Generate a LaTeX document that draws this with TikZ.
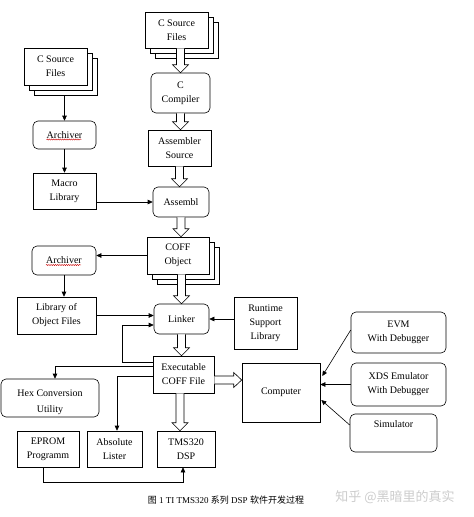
\documentclass[tikz,border=0pt]{standalone}
\usepackage{fontspec}
\setmainfont{Liberation Serif}
\newfontfamily\cjk{Noto Sans CJK SC}
\usetikzlibrary{calc,arrows.meta,decorations.pathmorphing}
\newcommand\hdown[2]{\draw[hollow] let \p1=(#1),\p2=(#2) in (\x1-4pt,\y1) -- (\x1-4pt,\y2+8pt) -- (\x1-8pt,\y2+8pt) -- (\x1,\y2) -- (\x1+8pt,\y2+8pt) -- (\x1+4pt,\y2+8pt) -- (\x1+4pt,\y1);}
\newcommand\hright[2]{\draw[hollow] let \p1=(#1),\p2=(#2) in (\x1,\y1+4pt) -- (\x2-8pt,\y1+4pt) -- (\x2-8pt,\y1+7.5pt) -- (\x2,\y1) -- (\x2-8pt,\y1-7.5pt) -- (\x2-8pt,\y1-4pt) -- (\x1,\y1-4pt);}
\begin{document}
\begin{tikzpicture}[x=1pt,y=-1pt,
  box/.style={draw,line width=0.6pt,fill=white,align=center,font=\fontsize{10}{14}\selectfont,inner sep=0pt},
  rbox/.style={box,rounded corners=5pt},
  arr/.style={line width=0.6pt,-{Triangle[length=5pt,width=4.5pt]}},
  hollow/.style={draw,line width=0.6pt,fill=white},
  squig/.style={red!80!black,line width=0.4pt,decorate,decoration={snake,amplitude=0.6pt,segment length=2.2pt}}]
\useasboundingbox (0,0) rectangle (474,517);

% left C source stack
\node[box,minimum width=63pt,minimum height=37pt] (srcL3) at (65.5,76.5) {};
\node[box,minimum width=63pt,minimum height=37pt] (srcL2) at (60.5,71.5) {};
\node[box,minimum width=63pt,minimum height=37pt] (srcL) at (55.5,66.5) {C Source\\Files};
% right C source stack
\node[box,minimum width=63pt,minimum height=36pt] (srcR3) at (186.5,40) {};
\node[box,minimum width=63pt,minimum height=36pt] (srcR2) at (181.5,35) {};
\node[box,minimum width=63pt,minimum height=36pt] (srcR) at (176.5,30) {C Source\\Files};

\node[rbox,minimum width=59pt,minimum height=40pt] (cc) at (180.5,93) {C\\Compiler};
\node[box,minimum width=63pt,minimum height=36pt] (asmsrc) at (179.5,148) {Assembler\\Source};
\node[rbox,minimum width=56pt,minimum height=30pt] (asm) at (181,202) {Assembl};

% COFF stack
\node[box,minimum width=62pt,minimum height=37pt] (coff3) at (188,265.5) {};
\node[box,minimum width=62pt,minimum height=37pt] (coff2) at (183,260.5) {};
\node[box,minimum width=62pt,minimum height=37pt] (coff) at (178,255.5) {COFF\\Object};

\node[rbox,minimum width=63pt,minimum height=28pt] (arch1) at (64.5,135) {Archiver};
\node[box,minimum width=63pt,minimum height=36pt] (macro) at (64.5,191) {Macro\\Library};
\node[rbox,minimum width=64pt,minimum height=29pt] (arch2) at (64,260.5) {Archiver};
\node[box,minimum width=79pt,minimum height=37pt] (lib) at (56.5,315.5) {Library of\\Object Files};
\node[rbox,minimum width=55pt,minimum height=30pt] (linker) at (181.5,319) {Linker};
\node[box,minimum width=63pt,minimum height=52pt] (rt) at (265.5,323) {Runtime\\Support\\Library};
\node[box,minimum width=61pt,minimum height=37pt] (exec) at (183.5,374.5) {Executable\\COFF File};
\node[box,minimum width=78pt,minimum height=59pt] (comp) at (281,392.5) {Computer};
\node[rbox,minimum width=95pt,minimum height=41pt] (evm) at (398.5,332.5) {EVM\\With Debugger};
\node[rbox,minimum width=95pt,minimum height=43pt] (xds) at (398.5,384.5) {XDS Emulator\\With Debugger};
\node[rbox,minimum width=87pt,minimum height=38pt] (sim) at (393.5,433) {};
\node[font=\fontsize{10}{14}\selectfont] (simtxt) at (393.5,424) {Simulator};
\node[rbox,minimum width=98pt,minimum height=38pt] (hex) at (50,398) {};
\node[font=\fontsize{10}{16}\selectfont,align=center] (hextxt) at (50,402) {Hex Conversion\\Utility};
\node[box,minimum width=62pt,minimum height=36pt] (eprom) at (48,449) {EPROM\\Programm};
\node[box,minimum width=55pt,minimum height=36pt] (abs) at (114.5,449) {Absolute\\Lister};
\node[box,minimum width=58pt,minimum height=36pt] (tms) at (186,449) {TMS320\\DSP};

% spelling squiggles
\draw[squig] ([xshift=-18pt,yshift=-4.5pt]arch1.center) -- ([xshift=17pt,yshift=-4.5pt]arch1.center);
\draw[squig] ([xshift=-18pt,yshift=-4.5pt]arch2.center) -- ([xshift=17pt,yshift=-4.5pt]arch2.center);

% hollow arrows
\hdown{cc.north |- srcR.south}{cc.north}
\hdown{cc.south}{asmsrc.north}
\hdown{asmsrc.south}{asm.north}
\hdown{asm.south}{asm.south |- coff.north}
\hdown{linker.north |- coff.south}{linker.north}
\hdown{linker.south}{linker.south |- exec.north}
\hdown{[xshift=-3.5pt]exec.south}{[xshift=-3.5pt]exec.south |- tms.north}
\hright{[yshift=-5.5pt]exec.east}{[yshift=-5.5pt]exec.east -| comp.west}

% thin arrows
\draw[arr] (srcL3.south -| arch1.north) -- (arch1.north);
\draw[arr] (arch1.south) -- (macro.north);
\draw[arr] (macro.east |- asm.west) -- (asm.west);
\draw[arr] (coff.west) -- (coff.west -| arch2.east);
\draw[arr] (arch2.south) -- (arch2.south |- lib.north);
\draw[arr] (lib.east) -- (lib.east -| linker.west);
\draw[arr] ([yshift=12.5pt]exec.west) -- ++(-30,0) |- ([yshift=-6pt]linker.west);
\draw[arr] ([yshift=8.5pt]exec.west) -| ([xshift=5pt]hex.north);
\draw[arr] ([yshift=-1.5pt]exec.west) -| ([xshift=2.5pt]abs.north);
\draw[arr] (linker.east -| rt.west) -- (linker.east);
\draw[arr] ([yshift=2.5pt]evm.west) -- ([xshift=2pt,yshift=16.5pt]comp.east);
\draw[arr] (xds.west) -- (xds.west -| comp.east);
\draw[arr] ([yshift=8pt]sim.west) -- ([xshift=1pt,yshift=-7.5pt]comp.east);
\draw[arr] ([xshift=-5pt]eprom.south) -- ++(0,15) -| ([xshift=-3pt]tms.south);

% caption and watermark
\node[font=\fontsize{9}{11}\selectfont] (cap) at (226,500) {{\cjk 图} 1 TI TMS320 {\cjk 系列} DSP {\cjk 软件开发过程}};
\node[font=\cjk\fontsize{13}{15}\selectfont,text=gray!40] (wm) at (395,497) {知乎 @黑暗里的真实};
\end{tikzpicture}
\end{document}
